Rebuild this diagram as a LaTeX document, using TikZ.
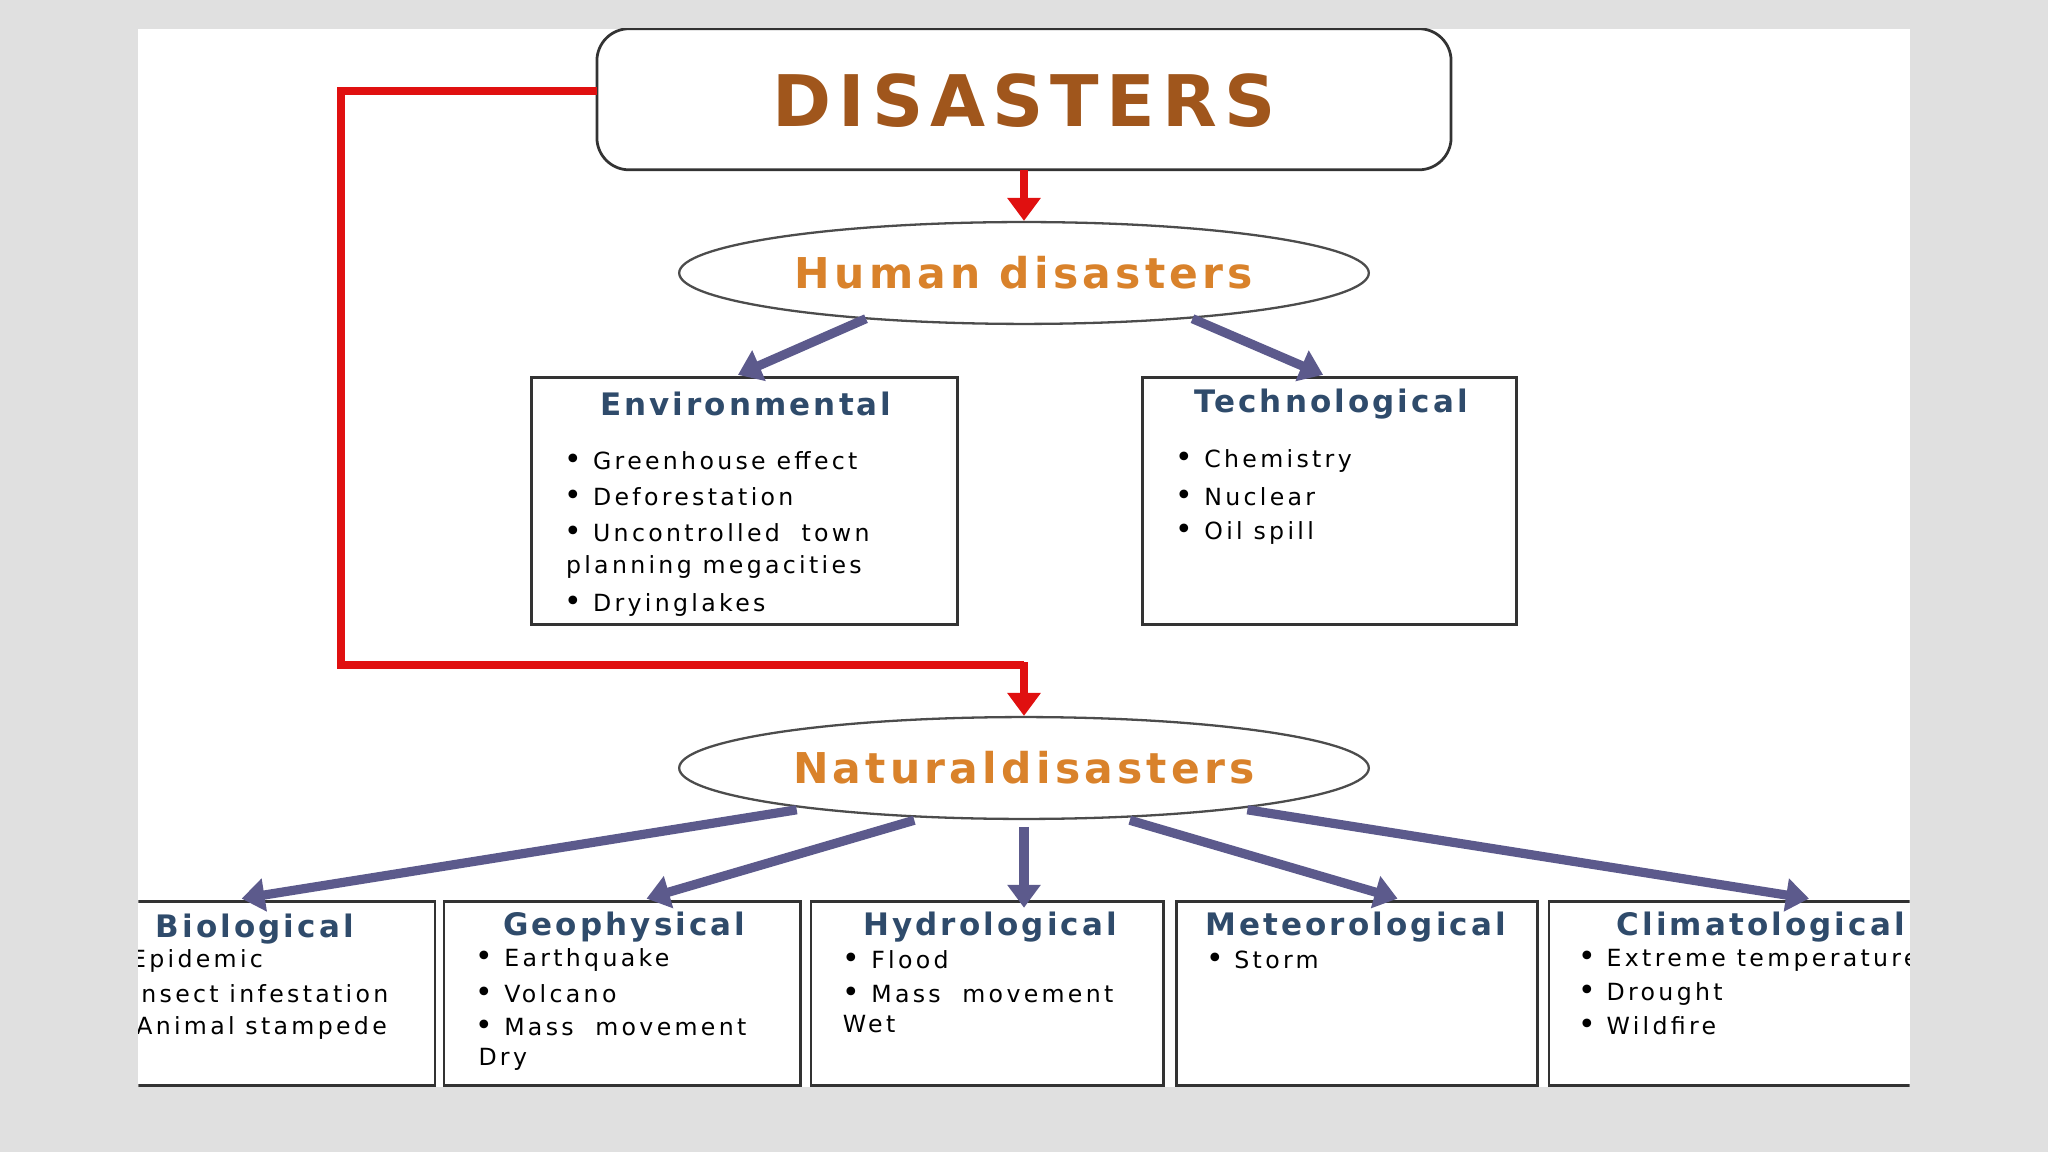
\documentclass[tikz,border=0pt]{standalone}
\usepackage{fontspec}
\setmainfont{DejaVu Sans}
\newfontfamily\spc[LetterSpace=10]{DejaVu Sans}
\newfontfamily\spi[LetterSpace=14]{DejaVu Sans}
\usetikzlibrary{shapes.geometric,arrows.meta}
\definecolor{bgc}{HTML}{E0E0E0}
\definecolor{brn}{HTML}{A0561C}
\definecolor{org}{HTML}{D9822B}
\definecolor{hdc}{HTML}{2F4B6B}
\definecolor{arc}{HTML}{5C5A8C}
\definecolor{redc}{HTML}{E01010}
\newcommand{\bul}{{\fontsize{13}{13}\selectfont•}\ }
\tikzset{
 box/.style={draw=black!80,line width=1.2pt},
 ell/.style={ellipse,draw=black!70,line width=1pt,fill=white,minimum width=528*0.02cm,minimum height=78*0.02cm},
 hd/.style={text=hdc,font=\spc\bfseries\fontsize{13.5}{15}\selectfont},
 it/.style={anchor=west,font=\spi\fontsize{10.3}{12}\selectfont,inner sep=0pt},
 parr/.style={draw=arc,line width=4pt,-{Triangle[length=10pt,width=14pt]}},
 rarr/.style={draw=redc,line width=3.5pt,-{Triangle[length=10pt,width=14pt]}},
}
\begin{document}
\begin{tikzpicture}[x=0.02cm,y=-0.02cm]
\fill[bgc] (0,0) rectangle (1568,882);
\fill[white] (106,22) rectangle (1462,832);
\begin{scope}
\clip (106,22) rectangle (1462,832);
% top
\draw[box,rounded corners=14pt,fill=white] (457,22) rectangle (1111,130);
\node[text=brn,font=\spc\bfseries\fontsize{31}{34}\selectfont] (dis) at (784,77) {DISASTERS};
\coordinate (disb) at (784,130);
\coordinate (disl) at (457,70);
\node[ell] (hum) at (784,209) {};
\node[text=org,font=\spc\bfseries\fontsize{18.5}{20}\selectfont] at (784,209) {Human disasters};
\node[ell] (nat) at (784,588) {};
\node[text=org,font=\spc\bfseries\fontsize{18.5}{20}\selectfont] at (784,588) {Naturaldisasters};
% red connectors
\draw[rarr] (disb) -- (hum.north);
\draw[rarr,-] (disl) -- (261,70) -- (261,509) -- (784,509);
\draw[rarr] (784,507) -- (nat.north);
% env/tech
\draw[box] (407,289) rectangle (733,478);
\draw[box] (875,289) rectangle (1161,478);
\node[hd] (env) at (571,309) {Environmental};
\node[hd] (tec) at (1019,309) {Technological};
\node[it] at (432,353) {\bul Greenhouse effect};
\node[it] at (432,380) {\bul Deforestation};
\node[it] at (432,408) {\bul Uncontrolled\ \ town};
\node[it] at (433,434) {planning megacities};
\node[it] at (432,463) {\bul Dryinglakes};
\node[it] at (900,353) {\bul Chemistry};
\node[it] at (900,380) {\bul Nuclear};
\node[it] at (900,408) {\bul Oil spill};
\coordinate (h1) at (663,244); \coordinate (h2) at (913,244);
\coordinate (e1) at (565,287); \coordinate (t1) at (1013,287);
\draw[parr] (h1) -- (e1);
\draw[parr] (h2) -- (t1);
% bottom boxes
\draw[box] (100,690) rectangle (333,831);
\draw[box] (340,690) rectangle (613,831);
\draw[box] (621,690) rectangle (891,831);
\draw[box] (901,690) rectangle (1177,831);
\draw[box] (1186,690) rectangle (1480,831);
\node[hd] (bio) at (195,711) {Biological};
\node[hd] (geo) at (478,710) {Geophysical};
\node[hd] (hyd) at (758,710) {Hydrological};
\node[hd] (met) at (1038,710) {Meteorological};
\node[hd] (cli) at (1348,710) {Climatological};
\node[it] at (100,736) {Epidemic};
\node[it] at (100,761) {Insect infestation};
\node[it] at (104,787) {Animal stampede};
\node[it] at (364,735) {\bul Earthquake};
\node[it] at (364,761) {\bul Volcano};
\node[it] at (364,786) {\bul Mass\ \ movement};
\node[it] at (366,811) {Dry};
\node[it] at (645,735) {\bul Flood};
\node[it] at (645,761) {\bul Mass\ \ movement};
\node[it] at (645,784) {Wet};
\node[it] at (923,735) {\bul Storm};
\node[it] at (1208,735) {\bul Extreme temperature};
\node[it] at (1208,761) {\bul Drought};
\node[it] at (1208,785) {\bul Wildfire};
\coordinate (n1) at (610,620); \coordinate (n2) at (700,628); \coordinate (n3) at (784,633);
\coordinate (n4) at (865,628); \coordinate (n5) at (955,620);
\coordinate (b1) at (185,688); \coordinate (b2) at (495,688); \coordinate (b3) at (784,695);
\coordinate (b4) at (1070,688); \coordinate (b5) at (1385,688);
\draw[parr] (n1) -- (b1);
\draw[parr] (n2) -- (b2);
\draw[parr] (n3) -- (b3);
\draw[parr] (n4) -- (b4);
\draw[parr] (n5) -- (b5);
\end{scope}
\end{tikzpicture}
\end{document}
